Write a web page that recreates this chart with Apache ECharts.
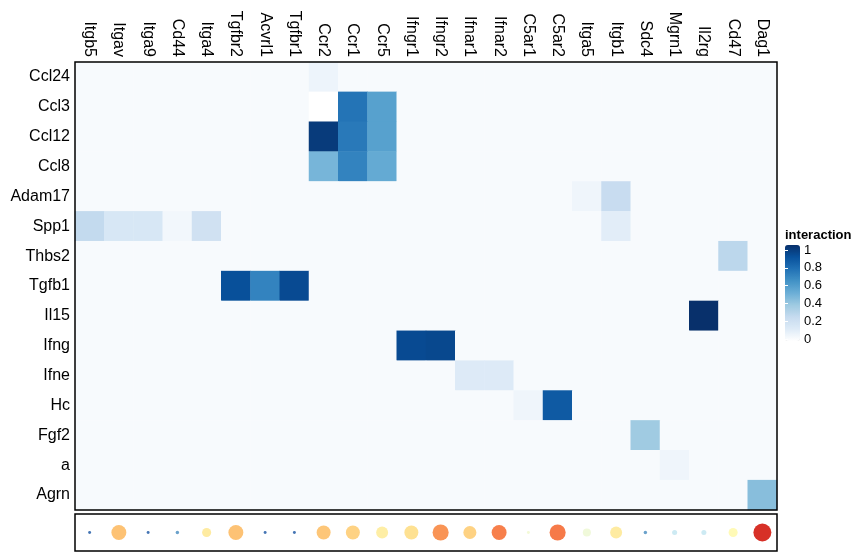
<!DOCTYPE html>
<html>
<head>
<meta charset="utf-8">
<script src="https://cdn.jsdelivr.net/npm/echarts@6/dist/echarts.min.js"></script>
<style>
html,body{margin:0;padding:0;background:#fff;}
#main{width:861px;height:559px;}
</style>
</head>
<body>
<div id="main"></div>
<script>
// ---- data ----
const receptors = ['Itgb5','Itgav','Itga9','Cd44','Itga4','Tgfbr2','Acvrl1','Tgfbr1','Ccr2','Ccr1','Ccr5','Ifngr1','Ifngr2','Ifnar1','Ifnar2','C5ar1','C5ar2','Itga5','Itgb1','Sdc4','Mgrn1','Il2rg','Cd47','Dag1'];
const ligands = ['Ccl24','Ccl3','Ccl12','Ccl8','Adam17','Spp1','Thbs2','Tgfb1','Il15','Ifng','Ifne','Hc','Fgf2','a','Agrn'];
const interaction = [
  /* Ccl24 */ [.03,.03,.03,.03,.03,.03,.03,.03,.07,.03,.03,.03,.03,.03,.03,.03,.03,.03,.03,.03,.03,.03,.03,.03],
  /* Ccl3  */ [.03,.03,.03,.03,.03,.03,.03,.03,0,.74,.56,.03,.03,.03,.03,.03,.03,.03,.03,.03,.03,.03,.03,.03],
  /* Ccl12 */ [.03,.03,.03,.03,.03,.03,.03,.03,.96,.72,.56,.03,.03,.03,.03,.03,.03,.03,.03,.03,.03,.03,.03,.03],
  /* Ccl8  */ [.03,.03,.03,.03,.03,.03,.03,.03,.47,.68,.52,.03,.03,.03,.03,.03,.03,.03,.03,.03,.03,.03,.03,.03],
  /* Adam17*/ [.03,.03,.03,.03,.03,.03,.03,.03,.03,.03,.03,.03,.03,.03,.03,.03,.03,.06,.24,.03,.03,.03,.03,.03],
  /* Spp1  */ [.26,.16,.16,.05,.20,.03,.03,.03,.03,.03,.03,.03,.03,.03,.03,.03,.03,.03,.11,.03,.03,.03,.03,.03],
  /* Thbs2 */ [.03,.03,.03,.03,.03,.03,.03,.03,.03,.03,.03,.03,.03,.03,.03,.03,.03,.03,.03,.03,.03,.03,.28,.03],
  /* Tgfb1 */ [.03,.03,.03,.03,.03,.88,.68,.90,.03,.03,.03,.03,.03,.03,.03,.03,.03,.03,.03,.03,.03,.03,.03,.03],
  /* Il15  */ [.03,.03,.03,.03,.03,.03,.03,.03,.03,.03,.03,.03,.03,.03,.03,.03,.03,.03,.03,.03,.03,1.0,.03,.03],
  /* Ifng  */ [.03,.03,.03,.03,.03,.03,.03,.03,.03,.03,.03,.90,.91,.03,.03,.03,.03,.03,.03,.03,.03,.03,.03,.03],
  /* Ifne  */ [.03,.03,.03,.03,.03,.03,.03,.03,.03,.03,.03,.03,.03,.13,.13,.03,.03,.03,.03,.03,.03,.03,.03,.03],
  /* Hc    */ [.03,.03,.03,.03,.03,.03,.03,.03,.03,.03,.03,.03,.03,.03,.03,.06,.84,.03,.03,.03,.03,.03,.03,.03],
  /* Fgf2  */ [.03,.03,.03,.03,.03,.03,.03,.03,.03,.03,.03,.03,.03,.03,.03,.03,.03,.03,.03,.37,.03,.03,.03,.03],
  /* a     */ [.03,.03,.03,.03,.03,.03,.03,.03,.03,.03,.03,.03,.03,.03,.03,.03,.03,.03,.03,.03,.06,.03,.03,.03],
  /* Agrn  */ [.03,.03,.03,.03,.03,.03,.03,.03,.03,.03,.03,.03,.03,.03,.03,.03,.03,.03,.03,.03,.03,.03,.03,.43]
];
// bottom annotation (per receptor): colour score and dot size score
const dotScore = [0.0,0.70,0.0,0.10,0.58,0.70,0.0,0.0,0.69,0.66,0.57,0.62,0.80,0.66,0.84,0.45,0.85,0.44,0.58,0.10,0.33,0.33,0.52,1.0];
const dotSize  = [0.06,0.81,0.06,0.09,0.44,0.81,0.06,0.06,0.75,0.75,0.62,0.75,0.88,0.69,0.81,0.06,0.88,0.38,0.62,0.09,0.19,0.19,0.44,1.0];
const legendTicks = [0,0.2,0.4,0.6,0.8,1];

// ---- build ----
const FONT = 'Liberation Sans, Arial, sans-serif';
const heatData = [];
interaction.forEach((row, yi) => row.forEach((v, xi) => heatData.push([xi, yi, v])));
const dotData = dotScore.map((s, i) => [i, 0.5, s, dotSize[i]]);

const L = 75, R = 84, T = 62, H = 448;
const chart = echarts.init(document.getElementById('main'));
chart.setOption({
  animation: false,
  backgroundColor: '#fff',
  title: {
    text: 'interaction', left: 785, top: 229, padding: 0,
    textStyle: {fontFamily: FONT, fontSize: 13, fontWeight: 'bold', color: '#000'}
  },
  grid: [
    {left: L, right: R, top: T, height: H, show: true, backgroundColor: 'transparent', borderColor: '#000', borderWidth: 1.5, z: 10},
    {left: L, right: R, top: 514, height: 37, show: true, backgroundColor: 'transparent', borderColor: '#000', borderWidth: 1.5, z: 10},
    {left: 785, top: 250, width: 15, height: 89, show: false}
  ],
  xAxis: [
    {type: 'category', data: receptors, gridIndex: 0, position: 'top',
     axisLine: {show: false}, axisTick: {show: false}, splitLine: {show: false},
     axisLabel: {rotate: 90, interval: 0, margin: 5, fontFamily: FONT, fontSize: 16, color: '#000'}},
    {type: 'category', data: receptors, gridIndex: 1, show: false},
    {type: 'value', gridIndex: 2, show: false, min: 0, max: 1}
  ],
  yAxis: [
    {type: 'category', data: ligands, gridIndex: 0, inverse: true,
     axisLine: {show: false}, axisTick: {show: false}, splitLine: {show: false},
     axisLabel: {interval: 0, margin: 5, fontFamily: FONT, fontSize: 16, color: '#000'}},
    {type: 'value', gridIndex: 1, show: false, min: 0, max: 1},
    {type: 'value', gridIndex: 2, min: 0, max: 1, interval: 0.2, position: 'right', z: 20,
     axisLine: {show: false}, splitLine: {show: false},
     axisTick: {show: true, inside: true, length: 3, lineStyle: {color: '#fff', width: 1}},
     axisLabel: {margin: 4, fontFamily: FONT, fontSize: 13, color: '#000',
       formatter: v => legendTicks.indexOf(Math.round(v * 10) / 10) >= 0 ? String(Math.round(v * 10) / 10) : ''}},
    {type: 'value', gridIndex: 2, min: 0, max: 1, interval: 0.2, position: 'left', z: 20,
     axisLine: {show: false}, splitLine: {show: false}, axisLabel: {show: false},
     axisTick: {show: true, inside: true, length: 3, lineStyle: {color: '#fff', width: 1}}}
  ],
  visualMap: [
    {type: 'continuous', seriesIndex: 0, min: 0, max: 1, dimension: 2,
     left: 785, top: 245, itemWidth: 15, itemHeight: 96, padding: 0,
     text: null, showLabel: false, calculable: false, realtime: false, hoverLink: false,
     inRange: {color: ['#ffffff','#deebf7','#c6dbef','#9ecae1','#6baed6','#4292c6','#2171b5','#08519c','#08306b']}},
    {type: 'continuous', seriesIndex: 1, min: 0, max: 1, dimension: 2, show: false,
     inRange: {color: ['#4575b4','#74add1','#abd9e9','#e0f3f8','#ffffbf','#fee090','#fdae61','#f46d43','#d73027']}},
    {type: 'continuous', seriesIndex: 1, min: 0, max: 1, dimension: 3, show: false,
     inRange: {symbolSize: [2, 18]}}
  ],
  series: [
    {type: 'heatmap', xAxisIndex: 0, yAxisIndex: 0, data: heatData, z: 2,
     itemStyle: {borderWidth: 0}, emphasis: {disabled: true}},
    {type: 'scatter', xAxisIndex: 1, yAxisIndex: 1, data: dotData, symbol: 'circle',
     itemStyle: {opacity: 1}, emphasis: {disabled: true}}
  ]
});
</script>
</body>
</html>
